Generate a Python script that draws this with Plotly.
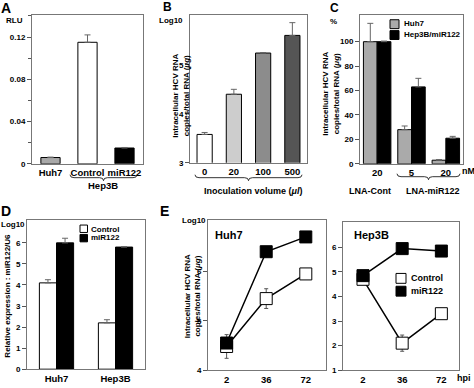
import plotly.graph_objects as go

W, H = 474, 388
def px(x): return x / W
def py(y): return 1 - y / H

# ---------------- data ----------------
# Panel A
a_cats = ["Huh7", "Control", "miR122"]
a_vals = [0.006, 0.115, 0.015]
a_err = [0.0004, 0.007, 0.0005]
a_colors = ["#a8a8a8", "white", "black"]
a_yticks = [0, 0.04, 0.08, 0.12]
a_yticktext = ["0", "0.04", "0.08", "0.12"]

# Panel B
b_cats = ["0", "20", "100", "500"]
b_vals = [3.58, 4.40, 5.24, 5.60]
b_err = [0.04, 0.10, 0.01, 0.26]
b_colors = ["white", "#cdcdcd", "#8c8c8c", "#555555"]
b_yticks = [3, 4, 5]

# Panel C
c_ticks = ["20", "5", "20"]
c_huh7 = [100, 28, 3]
c_huh7_err = [15, 3, 0.5]
c_hep = [100, 63, 21]
c_hep_err = [0.5, 7, 1.5]
c_yticks = [0, 20, 40, 60, 80, 100]

# Panel D
d_cats = ["Huh7", "Hep3B"]
d_ctrl = [4.1, 2.2]
d_ctrl_err = [0.15, 0.15]
d_mir = [6.0, 5.8]
d_mir_err = [0.22, 0.02]
d_yticks = [0, 1, 2, 3, 4, 5, 6]

# Panel E
e_hpi = ["2", "36", "72"]
e_huh7_ctrl = [4.48, 5.45, 5.95]
e_huh7_ctrl_err = [0.24, 0.2, 0.04]
e_huh7_mir = [4.55, 6.40, 6.70]
e_huh7_mir_err = [0.08, 0.03, 0.03]
e_hep_ctrl = [4.70, 2.10, 3.30]
e_hep_ctrl_err = [0.05, 0.33, 0.05]
e_hep_mir = [4.85, 5.95, 5.85]
e_hep_mir_err = [0.05, 0.05, 0.05]
e1_yticks = [4, 5, 6]
e2_yticks = [1, 2, 3, 4, 5, 6]

FONT = "Liberation Sans"
fig = go.Figure()

def err(arr, color="#444"):
    return dict(type="data", array=arr, arrayminus=[0] * len(arr), symmetric=False,
                color=color, thickness=1, width=3)

# A
fig.add_trace(go.Bar(x=list(range(len(a_cats))), y=a_vals, width=0.52,
                     marker=dict(color=a_colors, line=dict(color="black", width=1)),
                     error_y=err(a_err, "#666"), xaxis="x", yaxis="y"))
# B
fig.add_trace(go.Bar(x=list(range(len(b_cats))), y=b_vals, width=0.52,
                     marker=dict(color=b_colors, line=dict(color="black", width=1)),
                     error_y=err(b_err, "#666"), xaxis="x2", yaxis="y2"))
# C
fig.add_trace(go.Bar(x=list(range(len(c_ticks))), y=c_huh7, width=0.4, offset=-0.4,
                     marker=dict(color="#aaaaaa", line=dict(color="black", width=1)),
                     error_y=err(c_huh7_err, "#666"), xaxis="x3", yaxis="y3"))
fig.add_trace(go.Bar(x=list(range(len(c_ticks))), y=c_hep, width=0.4, offset=0,
                     marker=dict(color="black", line=dict(color="black", width=1)),
                     error_y=err(c_hep_err, "#666"), xaxis="x3", yaxis="y3"))
# D
fig.add_trace(go.Bar(x=list(range(len(d_cats))), y=d_ctrl, width=0.29, offset=-0.29,
                     marker=dict(color="white", line=dict(color="black", width=1)),
                     error_y=err(d_ctrl_err, "#666"), xaxis="x4", yaxis="y4"))
fig.add_trace(go.Bar(x=list(range(len(d_cats))), y=d_mir, width=0.29, offset=0,
                     marker=dict(color="black", line=dict(color="black", width=1)),
                     error_y=err(d_mir_err, "#666"), xaxis="x4", yaxis="y4"))

# E
def line_trace(y, e, fill, xa, ya):
    return go.Scatter(x=list(range(len(e_hpi))), y=y, mode="lines+markers",
                      line=dict(color="black", width=1.5),
                      marker=dict(symbol="square", size=12, color=fill,
                                  line=dict(color="black", width=1)),
                      error_y=dict(type="data", array=e, color="#555", thickness=1, width=2),
                      xaxis=xa, yaxis=ya)
fig.add_trace(line_trace(e_huh7_ctrl, e_huh7_ctrl_err, "white", "x5", "y5"))
fig.add_trace(line_trace(e_huh7_mir, e_huh7_mir_err, "black", "x5", "y5"))
fig.add_trace(line_trace(e_hep_ctrl, e_hep_ctrl_err, "white", "x6", "y6"))
fig.add_trace(line_trace(e_hep_mir, e_hep_mir_err, "black", "x6", "y6"))

tickfont = dict(family=FONT, size=8, color="black", weight="bold")
catfont = dict(family=FONT, size=9.5, color="black", weight="bold")

def xax(x0, x1, rng, ticktext, anchor):
    return dict(domain=[px(x0), px(x1)], range=rng, tickmode="array",
                tickvals=list(range(len(ticktext))), ticktext=ticktext, tickangle=0,
                showline=True, mirror=True, linecolor="#777", linewidth=1,
                ticks="", showgrid=False, zeroline=False, tickfont=catfont,
                anchor=anchor, fixedrange=True)

def yax(y0, y1, rng, tickvals, anchor, ticktext=None, minor=None):
    d = dict(domain=[py(y1), py(y0)], range=rng, tickmode="array", tickvals=tickvals,
             ticktext=ticktext if ticktext else [str(v) for v in tickvals],
             showline=True, mirror=True, linecolor="#777", linewidth=1,
             ticks="outside", ticklen=4, tickcolor="#555", showgrid=False,
             zeroline=False, tickfont=tickfont, anchor=anchor, fixedrange=True)
    if minor:
        d["minor"] = minor
    return d

layout = dict(
    width=W, height=H, margin=dict(l=0, r=0, t=0, b=0),
    paper_bgcolor="white", plot_bgcolor="white", showlegend=False,
    barmode="overlay",
    xaxis=xax(32, 143, [-0.5, 2.5], a_cats, "y"),
    yaxis=yax(15, 166, [0, 0.141], a_yticks, "x", a_yticktext,
              minor=dict(tickmode="linear", tick0=0, dtick=0.02, ticks="outside",
                         ticklen=3, tickcolor="#555")),
    xaxis2=xax(190, 307, [-0.5, 3.5], b_cats, "y2"),
    yaxis2=yax(15, 165, [3, 6.02], b_yticks, "x2"),
    xaxis3=xax(360, 463, [-0.5, 2.5], c_ticks, "y3"),
    yaxis3=yax(15, 166, [0, 122], c_yticks, "x3"),
    xaxis4=xax(27, 145, [-0.5, 1.5], d_cats, "y4"),
    yaxis4=yax(223, 374, [0, 7.08], d_yticks, "x4"),
    xaxis5=xax(208, 326, [-0.47, 2.51], e_hpi, "y5"),
    yaxis5=yax(223, 375, [4, 7.04], e1_yticks, "x5"),
    xaxis6=xax(343, 459, [-0.51, 2.45], e_hpi, "y6"),
    yaxis6=yax(225, 375, [1, 7.03], e2_yticks, "x6"),
)
fig.update_layout(**layout)

ann = []
def t(x, y, text, size=9, angle=0, xanchor="center", pad=1):
    ann.append(dict(x=px(x), y=py(y), xref="paper", yref="paper", text=text,
                    showarrow=False, textangle=angle, xanchor=xanchor, yanchor="middle",
                    borderpad=pad,
                    font=dict(family=FONT, size=size, color="black", weight="bold")))

# panel letters
t(6, 8, "A", 14, pad=0); t(167, 7, "B", 12, pad=0); t(334, 8, "C", 12, pad=0)
t(6, 214, "D", 14); t(164, 214, "E", 14)
# unit labels
t(14, 21, "RLU", 8, pad=0); t(171, 21, "Log10", 8, pad=0); t(333, 22, "%", 8, pad=0)
t(13, 227, "Log10", 8); t(194, 223, "Log10", 8)
# axis titles
yt = "Intracellular HCV RNA<br>copies/total RNA (<i>μg</i>)"
t(181, 97, yt, 8, -90); t(331, 95, yt, 8, -90); t(192, 300, yt, 8, -90)
t(7.5, 300, "Relative expression : miR122/U6", 8, -90)
# group labels
t(103, 188, "Hep3B", 9.5)
t(253, 193, "Inoculation volume (<i>μl</i>)", 9)
t(370, 193, "LNA-Cont", 9); t(433, 193, "LNA-miR122", 9)
t(468, 173, "nM", 9)
t(464, 383, "hpi", 9)
t(229, 238, "Huh7", 11); t(371, 238, "Hep3B", 11)
# legends text
t(402, 24, "Huh7", 8, xanchor="left"); t(402, 35, "Hep3B/miR122", 8, xanchor="left")
t(89, 232, "Control", 8, xanchor="left"); t(89, 241, "miR122", 8, xanchor="left")
t(409, 282, "Control", 9, xanchor="left"); t(409, 295, "miR122", 9, xanchor="left")
fig.update_layout(annotations=ann)

shapes = []
def sw(x0, y0, x1, y1, fill):
    shapes.append(dict(type="rect", xref="paper", yref="paper", x0=px(x0), x1=px(x1),
                       y0=py(y1), y1=py(y0), fillcolor=fill,
                       line=dict(color="black", width=1)))
sw(390, 20, 399, 29, "#aaaaaa"); sw(390, 31, 399, 40, "black")
sw(80, 228, 87.5, 235.5, "white"); sw(80, 237.5, 87.5, 245, "black")
sw(396, 277, 406, 287, "white"); sw(396, 290, 406, 300, "black")

def brace(x0, x1, yt_, yb):
    xm = (x0 + x1) / 2; ym = (yt_ + yb) / 2; r = 4
    pts = f"M {px(x0)},{py(yt_)} Q {px(x0)},{py(ym)} {px(x0 + r)},{py(ym)} " \
          f"L {px(xm - r)},{py(ym)} Q {px(xm)},{py(ym)} {px(xm)},{py(yb)} " \
          f"Q {px(xm)},{py(ym)} {px(xm + r)},{py(ym)} L {px(x1 - r)},{py(ym)} " \
          f"Q {px(x1)},{py(ym)} {px(x1)},{py(yt_)}"
    shapes.append(dict(type="path", xref="paper", yref="paper", path=pts,
                       line=dict(color="black", width=0.8)))
brace(70, 137, 177, 183)
brace(195, 302, 177, 183)
brace(397, 460, 176, 182)
fig.update_layout(shapes=shapes)

fig.write_html("out.html", config={"displayModeBar": False},
               post_script="document.body.style.margin='0';document.body.style.padding='0';")
